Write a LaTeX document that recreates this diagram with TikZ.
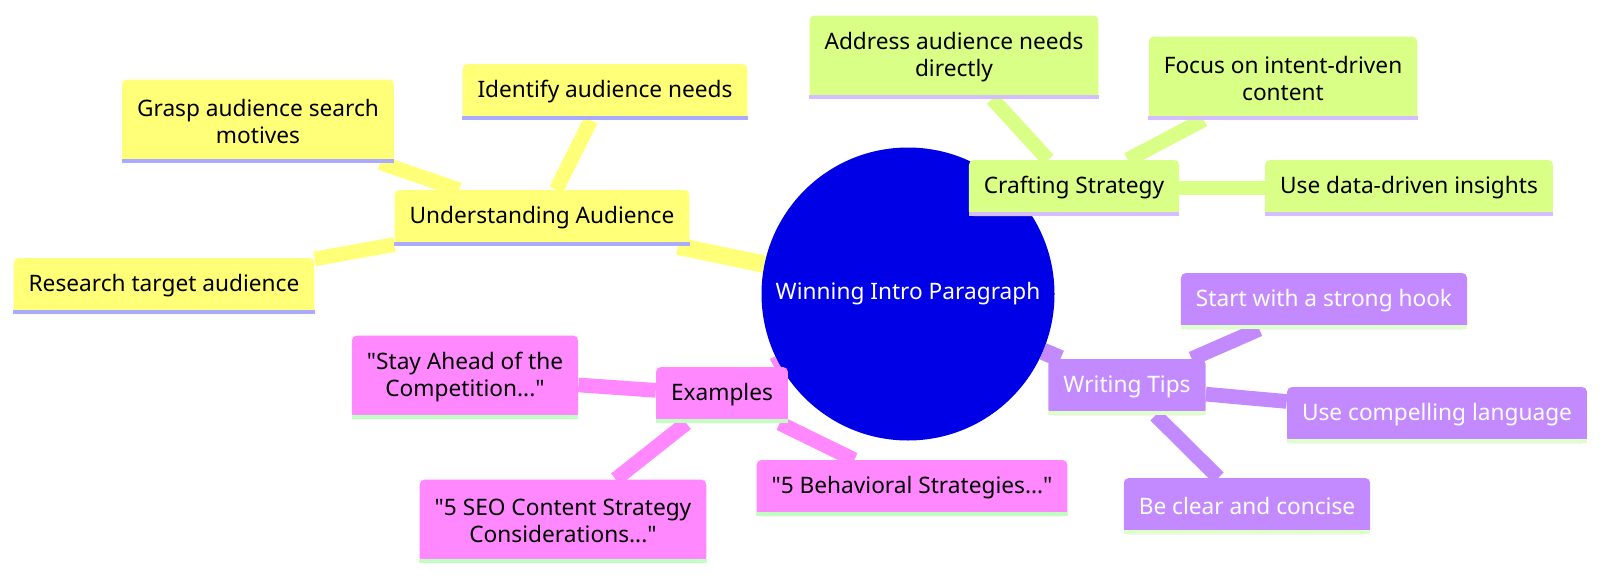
\documentclass[tikz,border=0pt]{standalone}
\usepackage{fontspec}
\setmainfont{Noto Sans}[Ligatures=TeXOff]
\usepackage{tikz}
\usetikzlibrary{backgrounds}

\definecolor{rootblue}{RGB}{0,0,230}
\definecolor{audfill}{RGB}{255,255,120}
\definecolor{audline}{RGB}{170,170,255}
\definecolor{stratfill}{RGB}{218,255,134}
\definecolor{stratline}{RGB}{212,190,255}
\definecolor{tipsfill}{RGB}{195,138,255}
\definecolor{tipsline}{RGB}{222,255,200}
\definecolor{exfill}{RGB}{255,136,255}
\definecolor{exline}{RGB}{192,255,192}

\begin{document}
\begin{tikzpicture}[x=0.75pt, y=-0.75pt,
    idea/.style={rectangle, rounded corners=3.75pt, inner xsep=11.25pt, inner ysep=4pt,
        minimum height=42pt, align=center, font=\fontsize{17}{20.25}\selectfont},
    twoline/.style={minimum height=62.25pt},
    aud/.style={idea, fill=audfill, text=black},
    strat/.style={idea, fill=stratfill, text=black},
    tips/.style={idea, fill=tipsfill, text=white},
    ex/.style={idea, fill=exfill, text=black},
    trunk/.style={line width=13pt},
    twig/.style={line width=11pt}]
    \useasboundingbox (0,0) rectangle (1600,578);

    % centre
    \node[circle, fill=rootblue, text=white, minimum size=219.75pt, inner sep=0pt,
        font=\fontsize{17}{20.25}\selectfont] (root) at (908,294) {Winning Intro Paragraph};

    % understanding audience
    \node[aud] (ua) at (542,218) {Understanding Audience};
    \node[aud, twoline] (grasp) at (258,121) {Grasp audience search\\motives};
    \node[aud] (ident) at (605,92) {Identify audience needs};
    \node[aud] (research) at (164,286) {Research target audience};

    % crafting strategy
    \node[strat] (craft) at (1074,188) {Crafting Strategy};
    \node[strat, twoline] (address) at (954,57) {Address audience needs\\directly};
    \node[strat, twoline] (focus) at (1283,78) {Focus on intent-driven\\content};
    \node[strat] (data) at (1409,188) {Use data-driven insights};

    % writing tips
    \node[tips] (wtips) at (1127,387) {Writing Tips};
    \node[tips] (hook) at (1324,301) {Start with a strong hook};
    \node[tips] (compel) at (1437,415) {Use compelling language};
    \node[tips] (clear) at (1247,506) {Be clear and concise};

    % examples
    \node[ex] (exmp) at (722,395) {Examples};
    \node[ex, twoline] (stay) at (465,377) {"Stay Ahead of the\\Competition..."};
    \node[ex, twoline] (seo) at (563,521) {"5 SEO Content Strategy\\Considerations..."};
    \node[ex] (behav) at (912,488) {"5 Behavioral Strategies..."};

    % coloured strip under each box
    \foreach \n/\c in {ua/audline, grasp/audline, ident/audline, research/audline,
        craft/stratline, address/stratline, focus/stratline, data/stratline,
        wtips/tipsline, hook/tipsline, compel/tipsline, clear/tipsline,
        exmp/exline, stay/exline, seo/exline, behav/exline}
        \fill[\c] ([yshift=3pt]\n.south west) rectangle (\n.south east);

    \begin{scope}[on background layer]
        \path[trunk, audfill] (root) edge (ua);
        \path[twig, audfill] (ua) edge (grasp) (ua) edge (ident) (ua) edge (research);
        \path[trunk, stratfill] (root) edge (craft);
        \path[twig, stratfill] (craft) edge (address) (craft) edge (focus) (craft) edge (data);
        \path[trunk, tipsfill] (root) edge (wtips);
        \path[twig, tipsfill] (wtips) edge (hook) (wtips) edge (compel) (wtips) edge (clear);
        \path[trunk, exfill] (root) edge (exmp);
        \path[twig, exfill] (exmp) edge (stay) (exmp) edge (seo) (exmp) edge (behav);
    \end{scope}
\end{tikzpicture}
\end{document}
